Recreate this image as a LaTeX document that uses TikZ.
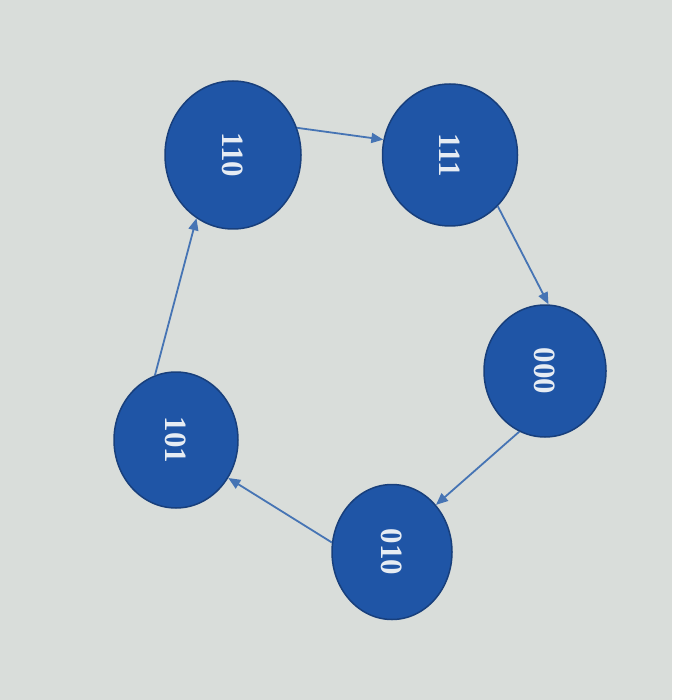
\documentclass[tikz,border=0pt]{standalone}
\usepackage{fontspec}
\setmainfont{Liberation Serif}
\usetikzlibrary{shapes.geometric,arrows.meta}
\definecolor{bg}{HTML}{D9DDDA}
\definecolor{nodefill}{HTML}{1F55A6}
\definecolor{nodeline}{HTML}{183F7C}
\definecolor{edgecol}{HTML}{4674B4}
\definecolor{txt}{HTML}{E6ECF3}
\begin{document}
\begin{tikzpicture}[x=1pt,y=-1pt,
  state/.style={ellipse,draw=nodeline,line width=1.5pt,fill=nodefill,
    text=txt,font=\fontsize{31}{32}\selectfont\bfseries,inner sep=0pt},
  link/.style={draw=edgecol,line width=1.8pt,-{Triangle[length=12pt,width=10pt]}}]
\fill[bg] (0,0) rectangle (672,700);
\useasboundingbox (0,0) rectangle (672,700);
\node[state,minimum width=136pt,minimum height=148pt] (n110) at (233,155) {\rotatebox{-90}{110}};
\node[state,minimum width=135pt,minimum height=142pt] (n111) at (450,155) {\rotatebox{-90}{111}};
\node[state,minimum width=122pt,minimum height=132pt] (n000) at (545,371) {\rotatebox{-90}{000}};
\node[state,minimum width=120pt,minimum height=135pt] (n010) at (392,552) {\rotatebox{-90}{010}};
\node[state,minimum width=124pt,minimum height=136pt] (n101) at (176,440) {\rotatebox{-90}{101}};
\draw[link] (n110.23.7) -- (n111.167.4);
\draw[link] (n111.-47.7) -- (n000.87.5);
\draw[link] (n000.-113.7) -- (n010.47.3);
\draw[link] (n010.171.5) -- (n101.-36.7);
\draw[link] (n101.108.7) -- (n110.-120.3);
\end{tikzpicture}
\end{document}
